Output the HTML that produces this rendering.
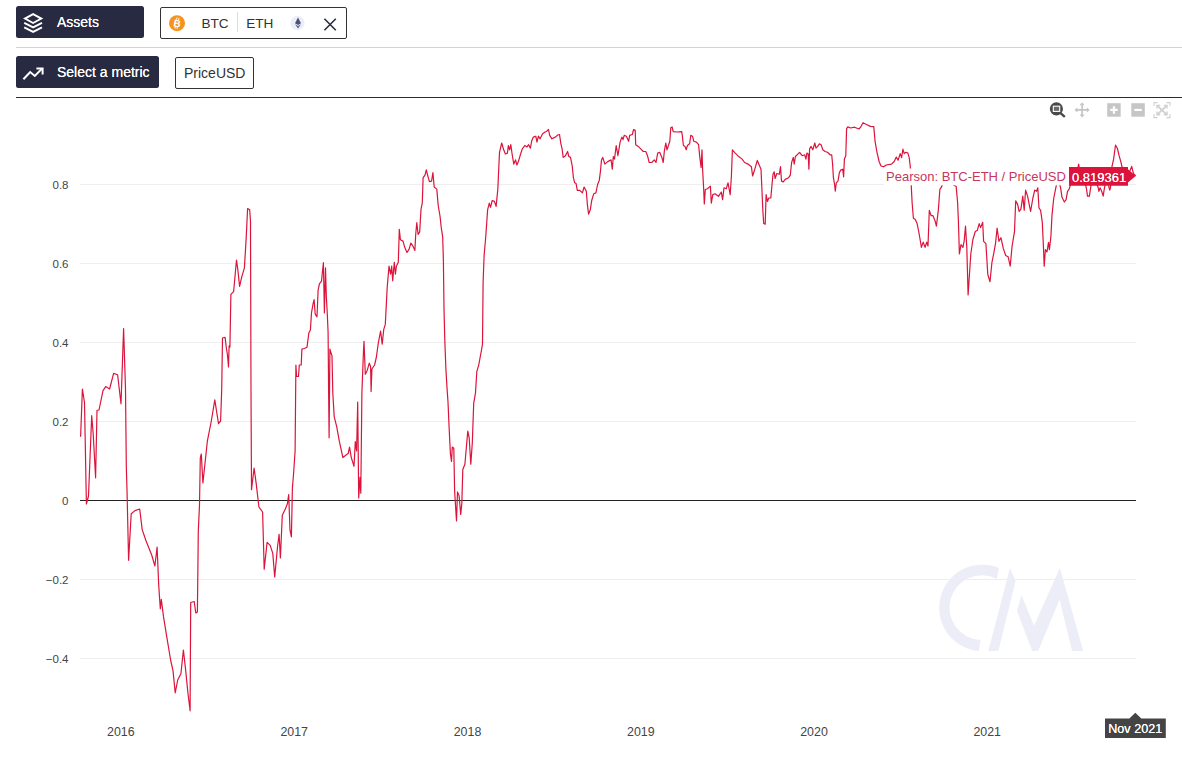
<!DOCTYPE html>
<html><head><meta charset="utf-8"><title>Correlation chart</title>
<style>
html,body{margin:0;padding:0;background:#fff;}
body{width:1182px;height:757px;position:relative;overflow:hidden;font-family:"Liberation Sans",sans-serif;}
.btn{position:absolute;left:16px;height:32px;background:#272a40;border-radius:2.5px;color:#fff;font-size:14px;line-height:32px;box-sizing:border-box;}
.btn span{position:absolute;left:41px;top:0;white-space:nowrap;text-shadow:0 0 0.6px #fff;}
.box{position:absolute;box-sizing:border-box;border:1px solid #333;border-radius:2px;background:#fff;color:#333;font-size:14px;}
.hr1{position:absolute;left:16px;right:0;top:47px;height:1px;background:#d2d3d8;}
.hr2{position:absolute;left:16px;right:0;top:97px;height:1px;background:#2b2b2b;}
svg text.tick{font-family:"Liberation Sans",sans-serif;font-size:11.5px;fill:#444;}
svg text.tickx{font-family:"Liberation Sans",sans-serif;font-size:12.4px;fill:#444;}
</style></head><body>

<div class="btn" style="top:6px;width:128px;">
<svg width="24" height="24" viewBox="0 0 24 24" style="position:absolute;left:5px;top:5px" fill="none" stroke="#fff" stroke-width="1.9" stroke-linejoin="miter">
<path d="M12.1 3.2 L20.3 7.6 L12.1 12 L4 7.6 Z"/>
<path d="M3.2 11.9 L12.1 16.4 L21 11.9"/>
<path d="M3.2 16.3 L12.1 20.9 L21 16.3"/>
</svg>
<span>Assets</span></div>

<div class="box" style="left:160px;top:7px;width:187px;height:32px;">
<svg width="185" height="30" viewBox="0 0 185 30" style="position:absolute;left:0;top:0">
<circle cx="16" cy="15.2" r="8" fill="#f7931a"/>
<g transform="rotate(10 16 15.2)"><text x="16.3" y="18.9" text-anchor="middle" font-family="Liberation Sans, sans-serif" font-weight="bold" font-size="10" fill="#fff">B</text>
<path d="M15 9.6 V11.8 M17 9.6 V11.8 M15 18.6 V20.8 M17 18.6 V20.8" stroke="#fff" stroke-width="0.9"/></g>
<text x="40.4" y="19.6" font-family="Liberation Sans, sans-serif" font-size="13.6" fill="#333">BTC</text>
<line x1="76.5" x2="76.5" y1="4" y2="24" stroke="#dddddd" stroke-width="1"/>
<text x="85.2" y="19.6" font-family="Liberation Sans, sans-serif" font-size="13.6" fill="#333">ETH</text>
<circle cx="136.5" cy="15" r="7.2" fill="#eceefa"/>
<path d="M137 9.6 L140 15.3 L137 17.1 L134 15.3 Z" fill="#4b5278"/>
<path d="M137 18 L140 16.2 L137 20.6 L134 16.2 Z" fill="#5d6590"/>
<path d="M163.4 10.8 L174.8 22.2 M174.8 10.8 L163.4 22.2" stroke="#2a2d3e" stroke-width="1.6" fill="none"/>
</svg>
</div>

<div class="hr1"></div>

<div class="btn" style="top:56px;width:143px;">
<svg width="24" height="24" viewBox="0 0 24 24" style="position:absolute;left:5px;top:5px" fill="none" stroke="#fff" stroke-width="2">
<path d="M2.4 18.2 L9.2 11.1 L13.8 14.9 L21 7.6"/>
<path d="M15.4 7.4 L21.6 7.4 L21.6 13.4"/>
</svg>
<span>Select a metric</span></div>

<div class="box" style="left:175px;top:57px;width:79px;height:32px;"><span style="position:absolute;left:8px;top:0;line-height:30px;">PriceUSD</span></div>

<div class="hr2"></div>

<svg width="1182" height="757" viewBox="0 0 1182 757" style="position:absolute;left:0;top:0">
<!-- watermark -->
<g fill="#ecedf6">
<path d="M998.8,567.9 A43.2,43.2 0 1 0 978.8,650.9 L980.4,640 A32.4,32.4 0 1 1 996.8,578.9 Z"/>
<path d="M988.3,651 L998.4,651 L1015.5,580.9 L1010,568 Z"/>
<path d="M1016.9,610.5 L1021.5,595.2 L1034,625.7 L1059.9,568 L1083.2,651 L1072.1,651 L1059.6,599.4 L1038.1,651 L1032.2,651 Z"/>
</g>
<line x1="80" x2="1136" y1="184.5" y2="184.5" stroke="#eeeeee" stroke-width="1" shape-rendering="crispEdges"/>
<line x1="80" x2="1136" y1="263.5" y2="263.5" stroke="#eeeeee" stroke-width="1" shape-rendering="crispEdges"/>
<line x1="80" x2="1136" y1="342.5" y2="342.5" stroke="#eeeeee" stroke-width="1" shape-rendering="crispEdges"/>
<line x1="80" x2="1136" y1="421.5" y2="421.5" stroke="#eeeeee" stroke-width="1" shape-rendering="crispEdges"/>
<line x1="80" x2="1136" y1="579.5" y2="579.5" stroke="#eeeeee" stroke-width="1" shape-rendering="crispEdges"/>
<line x1="80" x2="1136" y1="658.5" y2="658.5" stroke="#eeeeee" stroke-width="1" shape-rendering="crispEdges"/>

<line x1="80" x2="1136" y1="500.5" y2="500.5" stroke="#222" stroke-width="1" shape-rendering="crispEdges"/>
<text x="68.5" y="188.5" text-anchor="end" class="tick">0.8</text>
<text x="68.5" y="267.5" text-anchor="end" class="tick">0.6</text>
<text x="68.5" y="346.5" text-anchor="end" class="tick">0.4</text>
<text x="68.5" y="425.5" text-anchor="end" class="tick">0.2</text>
<text x="68.5" y="504.5" text-anchor="end" class="tick">0</text>
<text x="68.5" y="583.5" text-anchor="end" class="tick">−0.2</text>
<text x="68.5" y="662.5" text-anchor="end" class="tick">−0.4</text>
<text x="120.8" y="735.5" text-anchor="middle" class="tickx">2016</text>
<text x="294.2" y="735.5" text-anchor="middle" class="tickx">2017</text>
<text x="467.5" y="735.5" text-anchor="middle" class="tickx">2018</text>
<text x="640.8" y="735.5" text-anchor="middle" class="tickx">2019</text>
<text x="814.0" y="735.5" text-anchor="middle" class="tickx">2020</text>
<text x="987.2" y="735.5" text-anchor="middle" class="tickx">2021</text>

<path d="M80.6,436.8 L82.4,389.0 L84.5,402.5 L86.4,504.0 L88.5,496.0 L91.7,415.7 L93.2,434.0 L95.6,477.8 L97.0,410.4 L99.0,410.0 L103.0,390.6 L105.7,386.6 L109.6,389.0 L113.6,373.4 L117.6,374.7 L121.0,403.8 L123.6,328.5 L125.5,389.0 L126.3,465.9 L127.0,490.0 L128.6,560.3 L131.2,513.8 L135.0,510.6 L139.7,509.0 L142.2,529.6 L146.0,540.7 L151.7,555.0 L154.9,566.0 L157.1,547.0 L158.7,585.0 L160.3,608.8 L161.3,599.3 L163.5,616.7 L166.6,635.8 L170.8,661.0 L173.0,670.6 L175.2,692.8 L177.7,680.0 L180.9,673.8 L183.4,650.0 L185.7,670.6 L187.9,692.8 L190.1,710.8 L190.7,602.5 L194.2,601.5 L195.8,613.0 L197.4,612.0 L198.3,531.0 L199.5,505.0 L200.3,458.0 L201.3,454.0 L202.9,483.0 L207.4,440.8 L211.3,421.0 L214.8,399.8 L218.5,423.6 L220.6,421.0 L221.7,390.0 L222.5,338.0 L225.1,337.4 L226.4,348.5 L227.5,355.0 L228.5,367.0 L229.1,345.9 L229.9,347.2 L230.9,294.4 L233.6,291.7 L236.5,260.0 L237.8,269.3 L239.6,286.4 L241.7,277.2 L244.4,267.9 L246.2,237.6 L247.6,208.5 L249.7,209.8 L250.5,221.7 L251.0,390.0 L251.5,489.7 L254.1,468.0 L256.3,484.4 L258.9,507.0 L262.6,512.0 L264.2,569.2 L267.1,542.3 L270.2,545.4 L272.8,553.4 L274.7,577.0 L277.5,547.0 L279.1,534.4 L280.4,558.0 L282.3,515.3 L285.3,509.0 L287.4,503.8 L288.7,494.6 L290.0,530.2 L291.4,536.8 L292.4,488.0 L293.7,472.0 L295.1,451.0 L295.9,365.1 L296.6,376.5 L298.5,376.5 L299.3,365.0 L301.2,365.0 L301.9,349.2 L304.4,348.5 L307.0,347.2 L308.9,332.7 L310.4,330.0 L311.5,312.9 L313.1,303.6 L314.1,299.6 L315.2,314.2 L317.0,316.8 L318.1,290.4 L319.4,283.8 L321.5,281.1 L323.4,262.7 L324.4,312.9 L325.5,267.9 L326.3,295.7 L327.3,314.2 L328.1,332.7 L328.6,390.0 L329.1,437.8 L329.9,349.2 L332.0,355.9 L332.8,392.8 L334.2,416.6 L336.8,427.2 L339.4,441.7 L342.9,457.6 L346.0,455.0 L348.2,453.6 L349.5,447.0 L351.3,457.6 L354.0,466.3 L355.3,441.7 L356.6,451.0 L357.7,402.0 L358.7,498.0 L360.0,477.4 L360.8,493.2 L361.9,392.8 L363.5,350.6 L364.0,341.3 L365.3,374.3 L367.2,370.4 L369.3,363.2 L370.6,366.4 L371.1,391.5 L371.9,369.0 L374.6,365.0 L376.4,357.0 L378.3,343.2 L380.6,331.0 L382.2,344.2 L383.7,329.7 L385.3,324.4 L387.2,287.4 L389.0,266.2 L390.6,274.2 L391.7,266.2 L392.7,280.8 L394.3,262.3 L395.4,274.2 L396.4,266.2 L398.3,262.3 L399.3,229.3 L400.4,239.8 L403.0,241.1 L404.9,247.8 L407.0,252.5 L409.1,249.1 L410.9,243.0 L413.1,246.4 L414.9,250.4 L415.7,234.5 L416.8,222.7 L418.1,234.5 L419.7,231.9 L421.0,209.4 L422.3,202.8 L423.1,177.7 L425.0,175.1 L426.3,169.8 L427.6,175.1 L429.4,181.7 L431.6,181.2 L432.9,172.5 L434.2,187.0 L436.8,189.1 L438.2,205.5 L440.0,216.0 L441.3,227.9 L442.7,237.2 L443.4,261.0 L444.0,308.5 L444.8,340.2 L445.9,369.0 L447.0,387.6 L448.0,402.0 L449.1,427.2 L450.4,453.6 L451.5,461.5 L452.3,447.0 L453.8,448.3 L454.6,490.6 L456.5,521.0 L457.5,491.9 L459.1,495.9 L460.7,514.4 L461.8,503.8 L462.8,469.5 L464.9,464.2 L466.5,445.7 L467.8,431.1 L469.2,437.8 L470.8,464.2 L472.3,443.0 L473.7,403.4 L475.5,392.8 L476.8,371.7 L478.7,365.1 L481.5,350.0 L482.5,344.2 L483.1,282.1 L484.1,255.7 L485.7,237.2 L486.8,221.7 L487.6,209.8 L489.3,203.1 L490.5,207.3 L492.2,200.5 L494.4,201.4 L496.1,206.4 L497.8,189.5 L499.5,152.3 L501.7,143.0 L503.7,149.8 L505.4,154.0 L507.4,153.1 L508.4,145.5 L509.6,149.8 L510.8,144.7 L512.1,154.0 L513.8,164.1 L515.5,159.9 L516.9,165.0 L518.6,160.8 L520.6,154.0 L522.3,148.9 L524.8,145.5 L527.0,146.9 L528.6,144.7 L530.4,148.1 L531.6,141.3 L533.3,137.1 L535.8,136.2 L537.0,142.1 L538.4,136.2 L540.1,138.8 L542.6,133.7 L545.1,132.0 L546.8,131.2 L548.5,129.5 L549.7,135.4 L551.9,138.8 L555.3,137.1 L557.8,135.0 L559.5,134.5 L560.9,143.8 L562.1,148.9 L563.2,157.4 L565.4,155.7 L567.6,151.5 L568.8,156.5 L570.5,157.4 L572.2,165.8 L573.4,177.7 L574.7,182.8 L576.1,183.6 L577.3,190.4 L579.8,190.4 L582.4,192.9 L584.1,187.0 L586.3,191.2 L587.4,204.8 L588.6,214.1 L590.3,209.8 L591.7,200.5 L593.7,193.8 L595.9,192.9 L597.6,184.5 L599.3,180.2 L600.5,170.9 L601.5,159.9 L602.7,157.4 L604.9,164.1 L607.7,161.6 L611.1,159.9 L612.3,169.2 L613.3,156.5 L614.5,159.1 L616.2,145.5 L617.9,155.7 L620.1,142.1 L621.8,137.1 L623.0,139.6 L624.2,135.4 L626.4,136.2 L628.6,141.3 L629.7,135.4 L632.3,134.5 L633.6,129.5 L635.2,130.3 L635.7,144.7 L638.2,146.4 L640.7,148.9 L643.3,151.5 L645.8,151.5 L647.5,155.7 L649.2,162.5 L651.7,162.5 L654.3,159.9 L656.0,162.5 L657.7,153.1 L659.7,152.3 L661.9,157.4 L663.2,162.5 L664.4,150.6 L665.8,143.0 L667.0,149.8 L668.7,144.7 L669.8,141.3 L670.8,127.8 L672.1,126.9 L673.2,131.7 L676.9,132.0 L681.7,131.7 L682.3,135.4 L683.4,145.5 L685.0,146.4 L686.2,149.8 L687.4,145.5 L689.6,143.8 L690.8,135.4 L692.5,136.2 L693.8,141.3 L696.4,142.1 L698.6,144.7 L699.8,157.4 L701.1,167.5 L702.0,149.8 L702.6,169.2 L703.7,189.5 L704.3,203.9 L705.3,189.5 L707.4,188.7 L710.4,186.1 L711.3,203.1 L712.8,194.6 L715.0,193.8 L718.4,196.3 L721.3,192.1 L722.6,199.7 L724.0,187.8 L726.3,188.7 L728.0,182.8 L730.2,194.6 L731.4,176.0 L732.4,149.8 L734.5,152.3 L737.8,155.7 L742.1,159.1 L744.6,162.5 L748.0,164.1 L751.4,166.7 L752.6,176.0 L754.8,169.2 L757.3,160.4 L759.5,165.8 L761.0,169.2 L762.0,191.2 L762.9,211.5 L763.7,223.4 L765.2,224.2 L766.1,194.6 L767.4,201.4 L768.8,198.0 L770.8,198.0 L772.0,184.5 L773.0,174.3 L774.2,171.8 L775.1,178.5 L776.8,173.5 L779.3,174.3 L780.5,166.7 L781.5,181.1 L783.2,181.9 L785.2,179.4 L788.6,177.7 L790.3,175.1 L791.6,162.5 L793.3,157.4 L794.2,164.1 L795.4,156.5 L797.1,154.8 L799.6,152.3 L802.1,155.7 L804.7,154.8 L805.9,159.1 L806.9,153.1 L808.2,154.0 L808.9,169.2 L809.6,148.9 L811.1,146.4 L812.8,149.8 L814.8,143.0 L816.0,148.1 L817.7,146.4 L819.4,143.8 L821.1,144.7 L822.8,149.8 L825.0,151.5 L827.5,152.3 L830.1,154.8 L831.7,154.8 L832.6,164.1 L833.4,177.7 L834.6,184.5 L835.3,191.2 L836.3,182.8 L838.0,181.1 L839.4,172.6 L840.7,170.1 L842.7,169.2 L843.6,176.8 L844.4,159.1 L845.8,155.7 L846.6,128.6 L847.8,126.9 L850.6,128.0 L854.5,127.2 L859.0,129.0 L860.6,127.2 L863.0,122.7 L866.4,124.5 L870.4,126.4 L873.8,126.6 L875.1,141.7 L877.0,152.3 L879.1,161.5 L881.0,166.0 L883.6,166.8 L886.2,165.0 L891.5,164.2 L894.2,161.5 L896.3,157.0 L898.1,160.2 L900.2,153.6 L901.6,157.6 L902.9,149.1 L904.2,153.6 L906.0,152.3 L907.9,153.1 L909.2,157.6 L910.3,166.8 L911.3,186.6 L912.1,202.5 L913.4,218.3 L915.3,219.6 L917.1,223.6 L918.7,231.5 L920.1,239.5 L921.4,247.4 L923.2,242.1 L925.1,247.4 L926.7,242.1 L928.0,246.1 L929.3,210.4 L931.2,215.7 L933.0,215.7 L935.1,221.0 L936.4,226.2 L938.3,210.4 L939.9,189.3 L941.7,186.6 L944.0,180.0 L948.0,178.0 L951.0,181.0 L954.1,185.3 L956.2,186.6 L957.6,202.5 L958.4,221.0 L959.4,254.0 L961.0,244.7 L962.9,247.4 L964.2,240.8 L965.5,226.2 L966.8,247.4 L968.1,295.0 L969.5,273.8 L970.8,254.0 L972.9,239.5 L975.3,231.5 L977.4,230.2 L979.2,223.6 L980.6,227.6 L982.7,222.3 L983.6,241.3 L985.9,243.6 L987.8,274.5 L990.0,281.7 L991.9,262.7 L993.8,253.1 L995.5,243.6 L997.1,228.2 L999.0,241.3 L1000.9,237.7 L1003.3,248.4 L1005.7,255.5 L1008.1,256.7 L1010.2,266.2 L1012.1,246.0 L1014.5,231.7 L1015.7,200.8 L1017.6,204.4 L1019.2,211.5 L1020.9,209.2 L1022.8,196.1 L1024.2,210.3 L1025.6,190.1 L1027.6,196.1 L1029.2,204.4 L1030.6,211.5 L1032.8,198.5 L1034.7,190.1 L1036.6,191.3 L1037.8,187.8 L1039.0,208.0 L1040.6,210.3 L1042.3,222.2 L1043.5,248.4 L1044.2,266.2 L1045.4,249.6 L1047.0,252.0 L1048.5,242.4 L1049.4,249.6 L1050.9,236.5 L1052.0,215.1 L1053.7,198.5 L1055.6,188.9 L1057.0,182.0 L1059.0,181.0 L1060.8,188.9 L1062.0,197.3 L1064.4,202.0 L1066.1,199.6 L1067.5,191.3 L1069.2,188.9 L1071.0,183.0 L1073.0,178.0 L1075.0,181.0 L1077.0,172.0 L1078.7,164.0 L1080.0,174.0 L1082.0,180.0 L1084.0,178.0 L1086.5,188.9 L1087.5,196.1 L1089.4,196.1 L1090.6,187.8 L1092.0,180.0 L1094.0,176.0 L1096.0,181.0 L1098.2,187.8 L1098.9,191.3 L1100.1,187.8 L1101.7,191.3 L1103.2,196.1 L1104.3,188.9 L1106.0,180.0 L1107.5,178.0 L1109.1,187.8 L1109.8,190.1 L1110.5,187.3 L1112.0,166.4 L1113.6,159.2 L1115.5,145.0 L1117.4,148.5 L1119.1,155.7 L1120.8,161.6 L1122.2,167.5 L1124.0,172.0 L1126.0,176.0 L1128.0,174.0 L1129.8,171.1 L1131.7,166.4 L1133.4,173.5 L1135.7,175.9" fill="none" stroke="#dc143c" stroke-width="1.2" stroke-linejoin="round"/>

<!-- hover labels -->
<rect x="884" y="168.5" width="185" height="16.8" fill="#fff" fill-opacity="0.96"/>
<text x="886" y="181.4" font-family="Liberation Sans, sans-serif" font-size="13" fill="#c8375b">Pearson: BTC-ETH / PriceUSD</text>
<path d="M1069,167 L1128,167 L1128,169.2 L1135.7,175.9 L1128,182.6 L1128,185.8 L1069,185.8 Z" fill="#dc143c"/>
<text x="1072" y="181.6" font-family="Liberation Sans, sans-serif" font-size="13" fill="#fff" style="text-shadow:0 0 0.5px #fff">0.819361</text>

<path d="M1105,718.4 L1129.4,718.4 L1135.3,712.8 L1141.3,718.4 L1165.8,718.4 L1165.8,738 L1105,738 Z" fill="#444"/>
<text x="1135.2" y="732.7" text-anchor="middle" font-family="Liberation Sans, sans-serif" font-size="12.6" fill="#fff" style="text-shadow:0 0 0.5px #fff">Nov 2021</text>

<!-- modebar -->
<g>
 <g transform="translate(1050,102.5)" fill="none" stroke="#4a4a4a">
  <circle cx="6.4" cy="6.3" r="5.4" stroke-width="2.4" fill="#4a4a4a"/>
  <rect x="3.3" y="3.7" width="6.4" height="5.2" stroke="#fff" stroke-width="1.1" fill="#6a6a6a"/>
  <path d="M10.6 10.6 L14.2 13.8" stroke-width="2.3" stroke-linecap="round"/>
 </g>
 <g transform="translate(1074.5,102.3)" fill="#c4c4c4" stroke="none">
  <path d="M7.6 0 L10.1 2.9 L8.4 2.9 L8.4 6.8 L12.3 6.8 L12.3 5.1 L15.2 7.6 L12.3 10.1 L12.3 8.4 L8.4 8.4 L8.4 12.3 L10.1 12.3 L7.6 15.2 L5.1 12.3 L6.8 12.3 L6.8 8.4 L2.9 8.4 L2.9 10.1 L0 7.6 L2.9 5.1 L2.9 6.8 L6.8 6.8 L6.8 2.9 L5.1 2.9 Z"/>
 </g>
 <g transform="translate(1107.2,103.2)">
  <rect width="13.5" height="13.5" fill="#c6c6c6"/>
  <path d="M3 6.75 H10.5 M6.75 3 V10.5" stroke="#fff" stroke-width="2.2"/>
 </g>
 <g transform="translate(1131.3,103.2)">
  <rect width="13.5" height="13.5" fill="#c6c6c6"/>
  <path d="M3 6.75 H10.5" stroke="#fff" stroke-width="2.2"/>
 </g>
 <g transform="translate(1154,102.6)" fill="none" stroke="#d0d0d0">
  <path d="M0 3.5 V0 H3.5 M12.5 0 H16 V3.5 M16 11.5 V15 H12.5 M3.5 15 H0 V11.5" stroke-width="1.1"/>
  <path d="M3.5 3.2 L12.5 11.8 M12.5 3.2 L3.5 11.8" stroke-width="1.8"/>
  <path d="M3 6 V2.8 H6.2 M9.8 2.8 H13 V6 M13 9 V12.2 H9.8 M6.2 12.2 H3 V9" stroke-width="1.4"/>
 </g>
</g>
</svg>
</body></html>
